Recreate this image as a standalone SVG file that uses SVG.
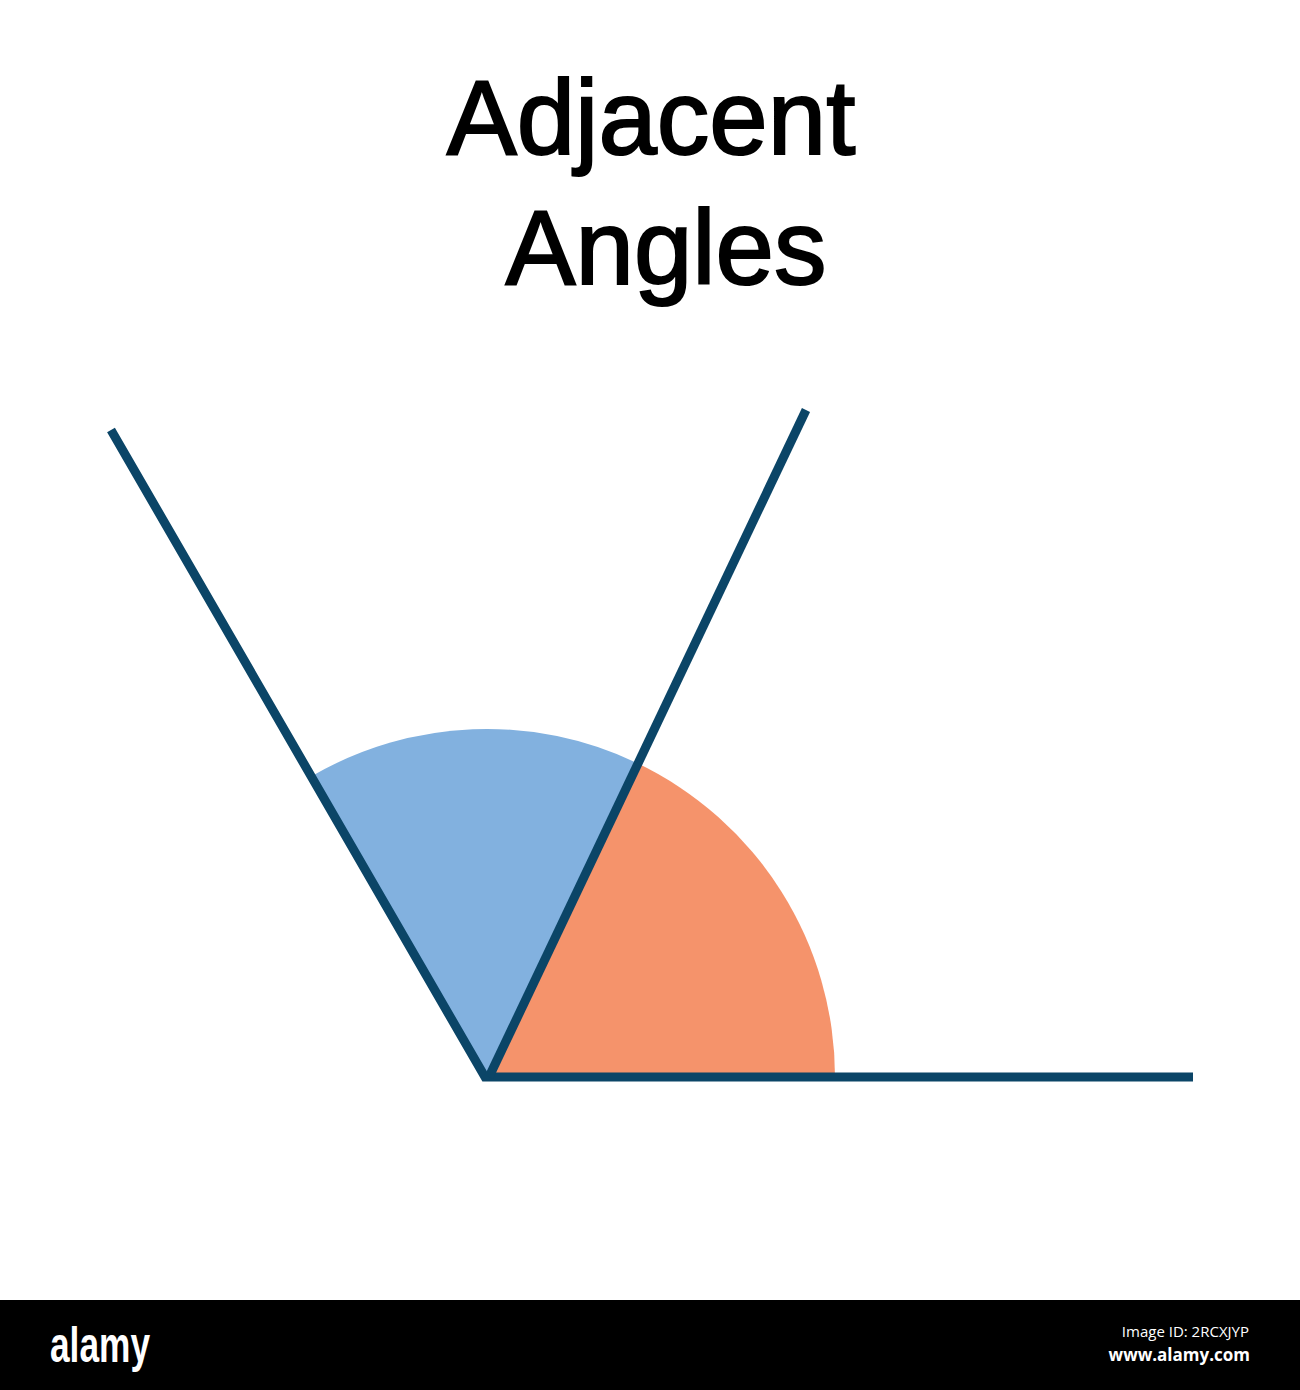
<svg xmlns="http://www.w3.org/2000/svg" width="1300" height="1390" viewBox="0 0 1300 1390">
<style>
.title{font-family:"Liberation Sans","DejaVu Sans",sans-serif;font-size:105px;fill:#000;stroke:#000;stroke-width:2;text-anchor:middle}
.ray{stroke:#0b4567;stroke-width:9;fill:none;stroke-linecap:butt;stroke-linejoin:miter}
</style>
<rect x="0" y="0" width="1300" height="1390" fill="#fff"/>
<g id="title">
<text class="title" x="651" y="154">Adjacent</text>
<text class="title" x="666" y="284">Angles</text>
</g>
<g id="sector-blue">
<path d="M485,1077 L312,776 A348,348 0 0 1 637,763 Z" fill="#82b1df"/>
</g>
<g id="sector-orange">
<path d="M487,1077 L637,763 A348,348 0 0 1 835,1077 Z" fill="#f5936b"/>
</g>
<g id="connectors">
<polyline class="ray" points="111,430 485,1077 1193,1077"/>
<line class="ray" x1="489" y1="1077" x2="806" y2="410"/>
</g>
<g id="footer">
<rect x="0" y="1300" width="1300" height="90" fill="#000"/>
<text x="50" y="1362" font-family="Liberation Sans Narrow,Liberation Sans,sans-serif" font-weight="bold" font-size="50" fill="#fff" textLength="100" lengthAdjust="spacingAndGlyphs">alamy</text>
<text x="1249" y="1337" font-family="Open Sans,sans-serif" font-size="15" fill="#fff" text-anchor="end">Image ID: 2RCXJYP</text>
<text x="1250" y="1361" font-family="Open Sans,sans-serif" font-weight="bold" font-size="17" fill="#fff" text-anchor="end">www.alamy.com</text>
</g>
</svg>
